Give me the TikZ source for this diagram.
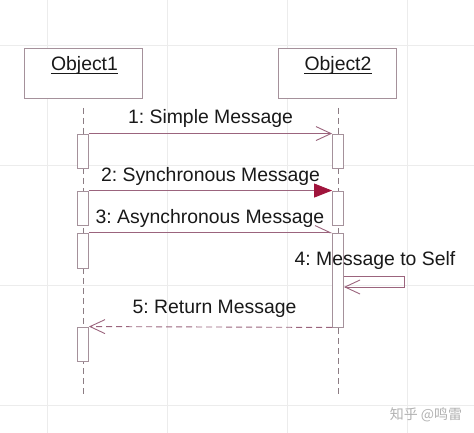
\documentclass[tikz,border=0pt]{standalone}
\usepackage{fontspec}
\setmainfont{Liberation Sans}
\newfontfamily\cjkfont{Noto Sans CJK SC}
\usetikzlibrary{arrows.meta}
\definecolor{boxline}{RGB}{165,145,155}
\definecolor{msgline}{RGB}{155,100,125}
\definecolor{lifecol}{RGB}{140,125,132}
\definecolor{synccol}{RGB}{160,20,60}
\definecolor{gridcol}{RGB}{236,236,236}
\definecolor{txt}{RGB}{25,25,25}
\frenchspacing
\begin{document}
\begin{tikzpicture}[x=1pt,y=-1pt,
  objbox/.style={draw=boxline, line width=0.9pt, fill=white, minimum width=118pt, minimum height=50pt, inner sep=0pt},
  actbox/.style={draw=boxline, line width=0.9pt, fill=white, minimum width=11pt, inner sep=0pt},
  lbl/.style={font=\fontsize{19.4}{23}\selectfont, text=txt, anchor=base, inner sep=0pt},
  uline/.style={draw=txt, line width=0.9pt},
  lifel/.style={draw=lifecol, dash pattern=on 6pt off 4pt, line width=0.9pt},
  msg/.style={draw=msgline, line width=0.9pt},
  openhead/.style={-{Straight Barb[length=15pt,width=14pt,line width=0.9pt]}},
  halfhead/.style={-{Straight Barb[left,length=15pt,width=14pt,line width=0.9pt]}},
  synchead/.style={-{Triangle[length=18pt,width=14pt,color=synccol,fill=synccol]}},
  gridl/.style={draw=gridcol, line width=0.7pt}
]
\useasboundingbox (0,0) rectangle (474,433);
\fill[white] (0,0) rectangle (474,433);
% faint background grid
\foreach \gx in {47,167,287,407} { \draw[gridl] (\gx,0) -- (\gx,433); }
\foreach \gy in {45,165,285,405} { \draw[gridl] (0,\gy) -- (474,\gy); }

% objects
\node[objbox] (obj1) at (83,73) {};
\node[objbox] (obj2) at (337,73.5) {};
\node[lbl] (obj1lbl) at (84.5,71) {Object1};
\node[lbl] (obj2lbl) at (338,71) {Object2};
\draw[uline] ([yshift=-2.5pt]obj1lbl.base west) -- ([yshift=-2.5pt]obj1lbl.base east);
\draw[uline] ([yshift=-2.5pt]obj2lbl.base west) -- ([yshift=-2.5pt]obj2lbl.base east);

% lifelines
\coordinate (l1top) at (83,108);
\coordinate (l1bot) at (83,397);
\coordinate (l2top) at (338,108);
\coordinate (l2bot) at (338,397);
\draw[lifel] (l1top) -- (l1bot);
\draw[lifel] (l2top) -- (l2bot);

% activation boxes
\node[actbox, minimum height=34pt] (a1) at (83,151) {};
\node[actbox, minimum height=34pt] (a2) at (83,208) {};
\node[actbox, minimum height=35pt] (a3) at (83,250.5) {};
\node[actbox, minimum height=34pt] (a4) at (83,344) {};
\node[actbox, minimum height=34pt] (b1) at (338,151) {};
\node[actbox, minimum height=34pt] (b2) at (338,208) {};
\node[actbox, minimum height=94pt] (b3) at (338,280) {};

% messages
\draw[msg, openhead] (a1.north east) -- (b1.north west);
\node[lbl] (t1) at (210.5,124) {1: Simple Message};

\draw[msg, synchead] (a2.north east) -- (b2.north west);
\node[lbl] (t2) at (210.5,182) {2: Synchronous Message};

\draw[msg, halfhead] (a3.north east) -- (b3.north west);
\node[lbl] (t3) at (210,223) {3: Asynchronous Message};

\coordinate (s1) at (404,276);
\coordinate (s2) at (404,287);
\draw[msg, openhead] (b3.east |- s1) -- (s1) -- (s2) -- (b3.east |- s2);
\node[lbl] (t4) at (375,265) {4: Message to Self};

\draw[msg, openhead, dash pattern=on 6pt off 4pt] (b3.south west) -- (a4.north east);
\node[lbl] (t5) at (214.5,313) {5: Return Message};

% watermark
\node[font=\cjkfont\fontsize{14}{16}\selectfont, text=black!30, anchor=base, inner sep=0pt] (wm) at (426,419) {知乎 @鸣雷};
\end{tikzpicture}
\end{document}
